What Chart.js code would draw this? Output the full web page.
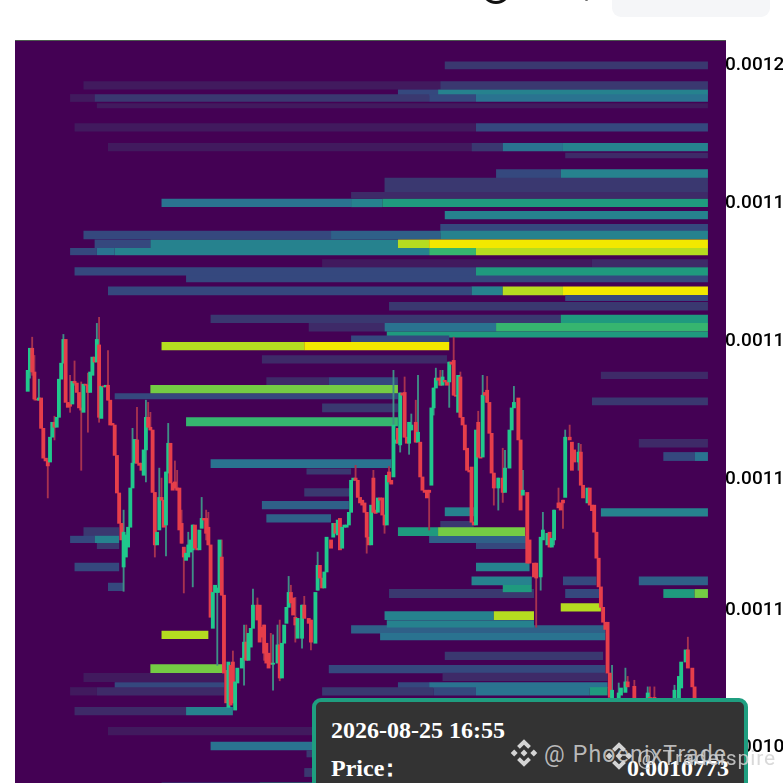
<!DOCTYPE html>
<html>
<head>
<meta charset="utf-8">
<style>
html,body{margin:0;padding:0;width:783px;height:783px;overflow:hidden;background:#fff}
#wrap{position:relative;width:783px;height:783px;overflow:hidden}
canvas{position:absolute;left:0;top:0}
.pill{position:absolute;left:612px;top:-12px;width:158px;height:29px;background:#f5f6f8;border-radius:9px}
.arc{position:absolute;left:481px;top:-26px;width:24px;height:24px;border:3px solid #111;border-radius:50%}
.dot{position:absolute;left:585px;top:-1px;width:3px;height:2px;background:#666;border-radius:50%}
#tip{position:absolute;left:312px;top:698px;width:428px;height:120px;background:#333;border:4px solid #1f9e80;border-radius:9px;color:#fff;font:bold 24px "Liberation Serif",serif}
#tip div{position:absolute;white-space:nowrap}
.wm{position:absolute;white-space:nowrap;font:400 23px Roboto,sans-serif;letter-spacing:1.2px;color:rgba(210,210,210,.85)}
.wm svg{position:absolute;top:-3px}
</style>
</head>
<body>
<div id="wrap">
<div class="arc"></div><div class="dot"></div><div class="pill"></div>
<canvas id="c" width="783" height="783"></canvas>
<div id="tip">
  <div style="left:15px;top:15px">2026-08-25 16:55</div>
  <div style="left:15px;top:50px">Price<span style="margin-left:-6px">：</span></div>
  <div style="right:15px;top:53px">0.0010773</div>
</div>
<div class="wm" style="left:544px;top:741px"><svg style="left:-35px" width="30" height="30" viewBox="0 0 26 26"><g fill="#d4d4d4"><path d="M13 1l6 6-2.4 2.4L13 5.8 9.4 9.4 7 7z"/><path d="M13 25l-6-6 2.4-2.4 3.6 3.6 3.6-3.6L19 19z"/><path d="M13 10l3 3-3 3-3-3z"/><path d="M4.5 10l3 3-3 3-3-3z"/><path d="M21.5 10l3 3-3 3-3-3z"/></g></svg>@ PhoenixTrade</div>
<div class="wm" style="left:637px;top:746px;font-size:21px;letter-spacing:.9px"><svg style="left:-33px;top:-5px" width="30" height="30" viewBox="0 0 26 26"><g fill="#d4d4d4"><path d="M13 1l6 6-2.4 2.4L13 5.8 9.4 9.4 7 7z"/><path d="M13 25l-6-6 2.4-2.4 3.6 3.6 3.6-3.6L19 19z"/><path d="M13 10l3 3-3 3-3-3z"/><path d="M4.5 10l3 3-3 3-3-3z"/><path d="M21.5 10l3 3-3 3-3-3z"/></g></svg>@ Tradeispire</div>
</div>
<script src="https://cdn.jsdelivr.net/npm/chart.js@4/dist/chart.umd.min.js"></script>
<script>
// Prices are stored in units of 1e-7.
const tickValues=[11996,11746,11496,11246,11009,10762];
const yMax=12042, yMin=10697, xMin=-5.7, xMax=313.1;

const candleIdx=[0,1,2,3,4,5,6,7,8,9,10,11,12,13,14,15,16,17,18,19,20,21,22,23,24,25,26,27,28,29,30,31,32,33,34,35,36,37,38,39,40,41,42,43,44,45,46,47,48,49,50,51,52,53,54,55,56,57,58,59,60,61,62,63,64,65,66,67,68,69,70,71,72,73,74,75,76,77,78,79,80,81,82,83,84,85,86,87,88,89,90,91,92,93,94,96,97,98,99,100,101,103,104,105,106,107,108,109,110,112,113,114,115,116,117,118,119,120,121,123,124,126,127,129,130,131,132,133,134,136,137,138,139,140,141,142,143,144,145,146,147,148,149,150,151,152,153,154,155,156,157,158,159,160,161,162,163,164,165,166,167,168,169,170,171,172,174,175,176,177,178,179,180,181,182,183,184,185,186,187,188,189,190,191,192,193,194,195,196,197,198,199,200,201,202,203,204,205,206,207,208,209,211,213,214,216,217,218,220,221,222,224,225,227,228,230,231,233,234,235,236,238,239,240,241,243,244,245,247,248,249,251,252,253,254,255,256,257,258,259,260,261,262,265,266,268,269,272,278,279,281,290,292,293,295,296,298,299];
const opens=[11406,11442,11484,11441,11392,11390,11394,11339,11285,11280,11278,11323,11350,11341,11359,11428,11457,11500,11386,11383,11383,11424,11421,11404,11376,11368,11419,11417,11404,11435,11468,11459,11490,11357,11415,11414,11417,11390,11348,11345,11290,11222,11167,11088,11106,11124,11160,11231,11276,11318,11276,11276,11254,11300,11359,11341,11336,11223,11128,11155,11214,11209,11164,11258,11312,11240,11242,11231,11231,11167,11124,11100,11106,11115,11119,11164,11122,11119,11158,11176,11176,11160,11128,10977,11042,11042,11042,11106,11037,10901,10834,10910,10916,10829,10878,10905,10923,10952,10919,10943,10977,11019,11019,10979,10983,10950,10932,10914,10912,10914,10947,10887,10950,10986,11015,11042,11032,10997,10959,10959,11019,10995,10992,10950,11046,11091,11068,11050,11079,11137,11142,11167,11146,11176,11122,11160,11160,11164,11187,11245,11249,11245,11214,11209,11204,11187,11142,11128,11249,11191,11187,11213,11213,11182,11164,11260,11245,11251,11312,11339,11309,11403,11404,11323,11312,11336,11350,11314,11314,11251,11227,11227,11227,11236,11376,11412,11430,11430,11417,11426,11423,11423,11459,11462,11399,11368,11432,11359,11345,11303,11263,11269,11169,11164,11350,11287,11287,11404,11408,11386,11330,11258,11231,11249,11223,11267,11336,11376,11394,11318,11218,11223,11137,11095,11095,11070,11137,11128,11151,11124,11137,11204,11204,11209,11214,11323,11314,11300,11278,11296,11236,11204,11231,11200,11200,11151,11104,11052,11015,10988,10988,10896,10847,10847,10856,10861,10880,10872,10838,10852,10852,10838,10838,10869,10916,10938,10905,10871];
const closes=[11444,11484,11441,11392,11390,11394,11339,11285,11280,11271,11323,11350,11341,11359,11428,11457,11500,11386,11377,11379,11424,11421,11404,11376,11372,11419,11417,11404,11441,11468,11459,11500,11359,11415,11414,11417,11390,11345,11345,11290,11222,11167,11137,11151,11146,11160,11231,11276,11319,11276,11272,11263,11300,11359,11341,11336,11223,11128,11151,11214,11209,11160,11260,11312,11240,11227,11231,11227,11155,11131,11106,11113,11128,11137,11164,11122,11119,11155,11176,11173,11149,11128,10997,11042,11055,11050,11137,11037,10896,10842,10916,10838,10842,10880,10905,10923,10952,10919,10968,10977,11019,10992,10952,10961,10932,10914,10905,10912,10914,10947,10887,10950,10983,11015,11042,11023,11001,10983,10995,11019,10995,10986,10952,11042,11091,11068,11050,11079,11142,11122,11167,11149,11173,11119,11160,11164,11164,11187,11245,11249,11245,11214,11204,11200,11187,11142,11128,11200,11187,11185,11213,11209,11182,11164,11254,11242,11238,11345,11318,11312,11403,11399,11323,11312,11350,11345,11314,11332,11251,11227,11223,11213,11223,11376,11412,11430,11426,11417,11432,11423,11417,11459,11455,11399,11397,11435,11359,11345,11300,11263,11260,11169,11164,11336,11287,11285,11399,11399,11386,11330,11258,11231,11249,11223,11267,11336,11376,11386,11318,11191,11227,11095,11095,11070,11068,11142,11155,11149,11124,11140,11191,11195,11191,11204,11323,11318,11263,11278,11296,11236,11213,11231,11200,11190,11151,11104,11052,11015,10988,10975,10896,10852,10865,10860,10869,10880,10871,10829,10860,10847,10843,10865,10890,10916,10938,10905,10871,10829];

const wickIdx=[1,2,3,5,9,12,16,19,21,24,27,31,32,36,43,47,49,53,54,55,57,59,60,62,63,66,67,69,70,72,74,78,80,81,85,87,92,97,98,101,103,106,109,110,112,113,117,118,120,123,124,127,130,147,152,155,160,162,164,167,169,171,172,174,175,180,182,183,185,186,189,191,194,202,204,206,209,211,213,214,218,222,228,230,231,236,238,240,241,243,247,248,262,265,268,269,272,278,279,281,290,296];
const wickHighs=[11484,11504,11471,11428,11285,11361,11509,11435,11461,11423,11439,11529,11540,11480,11191,11339,11377,11390,11386,11368,11223,11267,11249,11260,11348,11280,11263,11191,11106,11151,11164,11214,11191,11187,11042,11137,10936,10983,10983,11048,11032,10983,10968,10965,10983,10992,11071,11055,11033,11019,11035,10992,11115,11272,11187,11263,11182,11270,11444,11403,11432,11350,11365,11390,11435,11227,11412,11448,11444,11444,11459,11504,11441,11370,11435,11433,11258,11249,11303,11299,11415,11263,11095,11070,11187,11191,11231,11209,11336,11345,11312,11310,10910,10878,10905,10890,10883,10871,10871,10871,10874,10961];
const wickLows=[11430,11435,11390,11390,11213,11318,11490,11368,11417,11263,11332,11490,11350,11390,11044,11276,11276,11242,11341,11336,11106,11209,11209,11108,11309,11231,11227,11131,11041,11108,11052,11173,11137,11128,10910,11037,10842,10874,10952,11019,11019,10919,10912,10865,10947,10882,11042,11042,10952,10941,11019,10938,11046,11245,11113,11187,11149,11242,11345,11296,11323,11292,11336,11314,11332,11155,11363,11430,11417,11432,11377,11399,11359,11287,11399,11386,11200,11191,11205,11267,11386,11227,10979,11046,11155,11128,11204,11158,11323,11323,11263,11296,10865,10860,10880,10880,10872,10860,10852,10852,10865,10938];

const levelPrices=[11996,11960,11947,11937,11923,11884,11848,11833,11800,11779,11761,11747,11725,11701,11689,11673,11659,11638,11610,11623,11588,11575,11560,11537,11522,11509,11500,11488,11464,11435,11424,11397,11410,11388,11376,11351,11312,11288,11275,11261,11223,11200,11187,11188,11176,11164,11152,11138,11138,11152,11126,11126,11088,11088,11063,11063,11063,11052,11040,11049,11040,11040,11015,10975,10962,10985,11000,10965,10927,10904,10903,10888,10889,10874,10874,10863,10863,10827,10791,10764,10750,10716,10690];
const levelSpans=[14,15,11,14,9,15,15,10,16,27,12,15,15,16,15,16,13,14,13,15,16,11,15,15,15,11,14,15,15,13,15,11,15,14,16,16,15,16,16,11,15,15,15,16,15,15,16,13,13,16,11,11,15,15,16,16,16,15,16,13,16,16,15,15,13,13,16,15,15,16,15,16,15,11,11,15,15,15,15,15,13,16,16];
const levelBreaks=[[187,305],[25,185,305],[166,184,305],[19,30,180,201,305],[31,305],[21,201,305],[36,199,213,240,305],[241,305],[210,239,305],[160,305],[145,305],[60,145,159,305],[187,305],[185,305],[25,136,185,305],[30,55,166,180,305],[19,31,39,180,201,305],[132,253,305],[71,305],[21,201,305],[36,199,213,240,305],[241,305],[162,305],[82,239,305],[126,160,210,305],[161,305],[145,189],[60,124,189],[105,188],[257,305],[107,135,166],[39,166],[55,166],[253,305],[132,166],[71,166],[274,305],[285,299,305],[82,163],[125,145],[124,145],[105,144],[257,305],[187,200],[107,136],[185,200],[25,41],[19,30,41],[180,224],[166,184,223],[31,41],[201,224],[21,41],[201,225],[199,226],[240,255],[274,305],[36,43],[162,227],[213,226],[241,257],[285,299,305],[239,257],[145,259],[158,259],[161,227],[160,209,227],[60,81],[187,258],[55,88],[135,259],[25,88],[186,260],[39,88],[166,180,260],[19,31,88],[132,182,201,252,260],[21,71,92],[36,128],[82,128],[125,128],[124,128],[60,104,128]];
const levelHeats=[[2],[0,2],[3,6],[0,2,3,5],[0],[0,3],[0,2,5,6],[1],[3,6],[2],[1],[5,6,7],[6],[3],[3,4,6],[3,6,10,11],[3,5,6,8,10],[0,1],[3],[3,7],[3,6,10,11],[3],[2],[2,7],[1,5,8],[7],[3],[10,11],[1],[1],[1,3],[3],[9],[2],[2],[8],[1],[3,5],[5],[2],[2],[4],[6],[6],[4],[2],[2],[3,6],[4],[7,9],[2],[3],[3],[6],[6],[3],[4],[3],[2],[7],[3],[7,9],[10],[4],[5],[6],[6,10],[10],[2],[9],[3],[0],[1],[3],[3,5],[0,1],[2,3,5,7],[1,6],[0],[5],[2],[2],[3,7]];

const heatPalette=['#411a5e','#3e2a68','#3a3870','#35487e','#2f6088','#2a7390','#26828e','#1f9a7e','#36b56f','#74cc44','#b5dc20','#f2e800'];
const bgPurple='#440154', upBody='#20c88c', downBody='#e63e4a', upWick='#3f8f86', downWick='#a8324f';

const pricePerPx=(yMax-yMin)/743;
const datasets=[];
let ord=2000;
levelPrices.forEach((p,r)=>{
  const br=levelBreaks[r], ht=levelHeats[r];
  ht.forEach((h,s)=>{
    datasets.push({type:'line',order:ord--,data:[{x:br[s],y:p},{x:br[s+1],y:p}],
      borderColor:heatPalette[h],borderWidth:levelSpans[r]/pricePerPx,borderCapStyle:'butt',
      pointRadius:0,tension:0,fill:false});
  });
});
const dirByIdx={};
candleIdx.forEach((ix,i)=>{dirByIdx[ix]=closes[i]>=opens[i];});
datasets.push({type:'bar',order:2,barThickness:1.2,grouped:false,
  data:wickIdx.map((ix,i)=>({x:ix,y:[wickLows[i],wickHighs[i]]})),
  backgroundColor:wickIdx.map(ix=>dirByIdx[ix]?upWick:downWick)});
datasets.push({type:'bar',order:1,barThickness:3.2,grouped:false,minBarLength:1,
  data:candleIdx.map((ix,i)=>({x:ix,y:[opens[i],closes[i]]})),
  backgroundColor:candleIdx.map((ix,i)=>closes[i]>=opens[i]?upBody:downBody)});

const plotBg={id:'plotBg',beforeDatasetsDraw(ch){
  const a=ch.chartArea,g=ch.ctx;g.save();
  g.fillStyle=bgPurple;g.fillRect(a.left,a.top,a.width,a.height);
  g.fillStyle='#4c5a4e';g.fillRect(a.left,a.top,a.width,1);
  g.restore();
}};

new Chart(document.getElementById('c'),{
  data:{datasets},
  plugins:[plotBg],
  options:{
    responsive:false,animation:false,events:[],
    layout:{autoPadding:false,padding:{left:15,top:40,right:0,bottom:0}},
    plugins:{legend:{display:false},tooltip:{enabled:false},title:{display:false}},
    scales:{
      x:{type:'linear',min:xMin,max:xMax,offset:false,display:false,grid:{display:false}},
      y:{type:'linear',position:'right',min:yMin,max:yMax,
        grid:{display:false,drawTicks:false},border:{display:false},
        afterBuildTicks(ax){ax.ticks=tickValues.map(value=>({value}));},
        afterFit(ax){ax.width=57;ax.paddingBottom=0;ax.paddingTop=0;},
        ticks:{autoSkip:false,padding:-1,color:'#000',maxRotation:0,
          font:{family:'Roboto',size:19,weight:'500'},
          callback:v=>(v/1e7).toFixed(6)}
      }
    }
  }
});
</script>
</body>
</html>
